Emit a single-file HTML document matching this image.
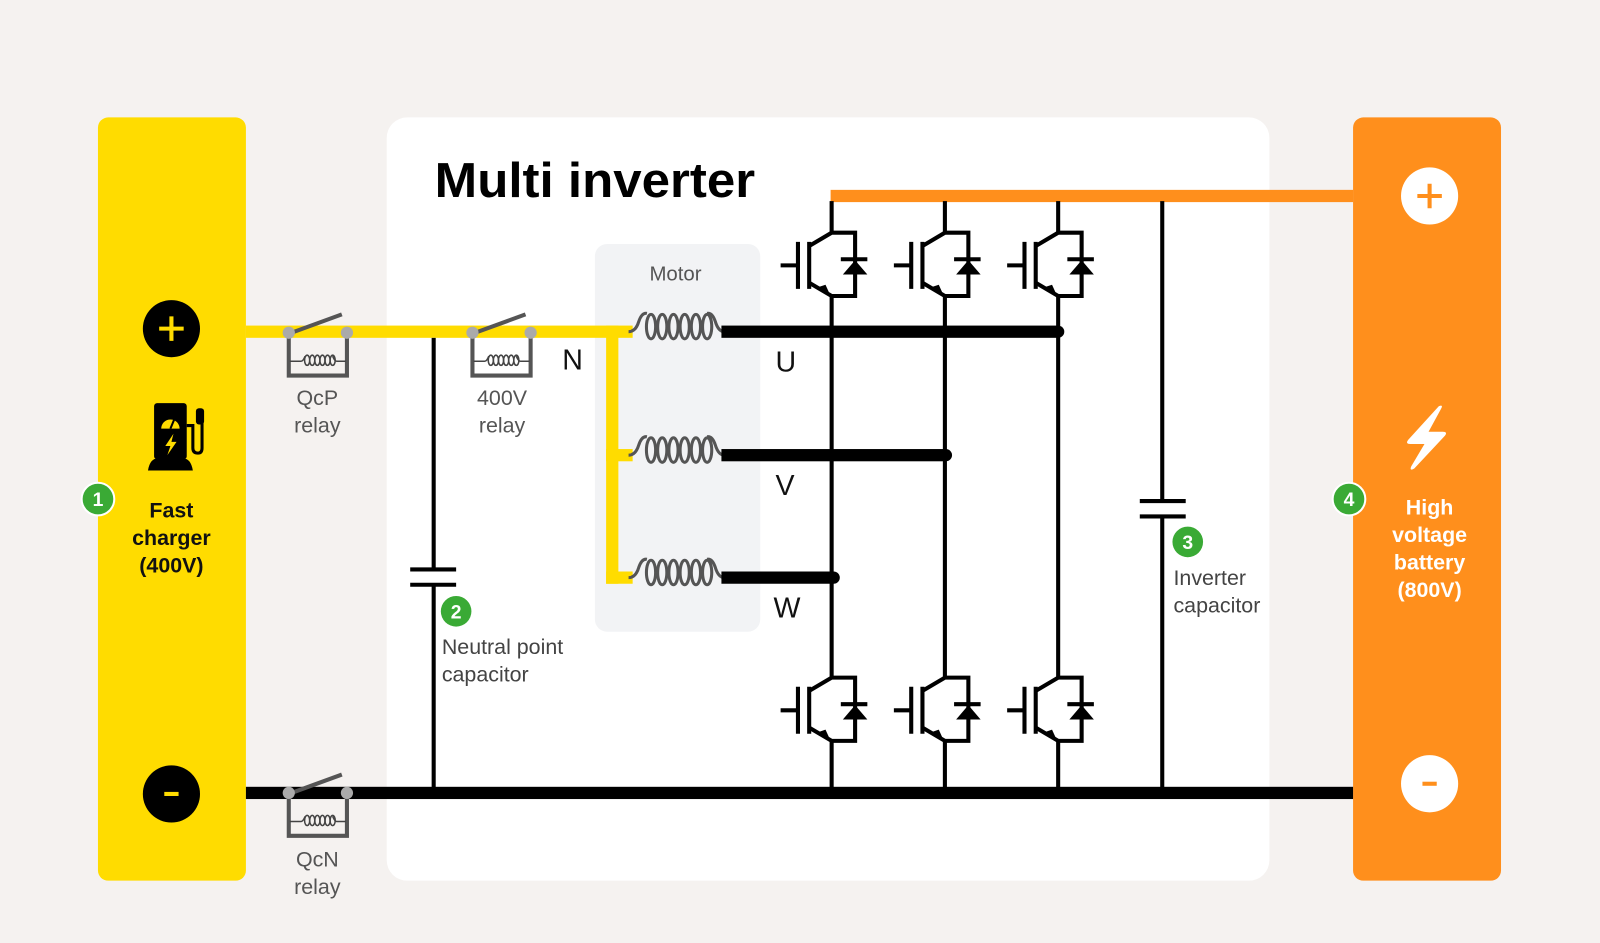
<!DOCTYPE html>
<html><head><meta charset="utf-8"><style>
html,body{margin:0;padding:0;background:#f5f2f0;}
svg{display:block;}
text{font-family:"Liberation Sans",sans-serif;}
</style></head><body>
<svg width="1600" height="943" viewBox="0 0 1568 924" xmlns="http://www.w3.org/2000/svg">
<defs>
<g id="igbt" fill="none" stroke="#000" stroke-width="4">
  <line x1="-50" y1="32" x2="-33" y2="32"/>
  <line x1="-33" y1="9" x2="-33" y2="55"/>
  <line x1="-22" y1="9" x2="-22" y2="55"/>
  <polyline points="-22,13 0,0 23,0 23,62 0,62 -22,49"/>
  <line x1="9" y1="26" x2="35" y2="26"/>
  <polygon points="23,27 11,41 35,41" fill="#000" stroke="none"/>
  <polygon points="-1,62 -12,53 -6,51" fill="#000" stroke="none"/>
</g>
<g id="relay">
  <polyline points="0,0 0,42 57,42 57,0" fill="none" stroke="#555" stroke-width="4"/>
  <g fill="none" stroke="#444" stroke-width="1.5">
    <path d="M1,28 H12 q2,0 4,-5 M43,23 q2,5 4,5 H56"/>
    <ellipse cx="18" cy="27" rx="2.5" ry="5"/>
    <ellipse cx="23" cy="27" rx="2.5" ry="5"/>
    <ellipse cx="28" cy="27" rx="2.5" ry="5"/>
    <ellipse cx="33" cy="27" rx="2.5" ry="5"/>
    <ellipse cx="38" cy="27" rx="2.5" ry="5"/>
    <ellipse cx="43" cy="27" rx="2.5" ry="5"/>
  </g>
  <line x1="0" y1="1" x2="52" y2="-18" stroke="#555" stroke-width="4"/>
  <circle cx="0" cy="0" r="6" fill="#aaa"/>
  <circle cx="57" cy="0" r="6" fill="#aaa"/>
</g>
<g id="coil" fill="none" stroke="#555" stroke-width="3">
  <path d="M0,3 q7,0 10,-10 q3,-9 8,-8 M77,-15 q5,-1 8,8 q3,10 9,10"/>
  <ellipse cx="22" cy="-2" rx="4.5" ry="12"/>
  <ellipse cx="33" cy="-2" rx="4.5" ry="12"/>
  <ellipse cx="44" cy="-2" rx="4.5" ry="12"/>
  <ellipse cx="55" cy="-2" rx="4.5" ry="12"/>
  <ellipse cx="66" cy="-2" rx="4.5" ry="12"/>
  <ellipse cx="77" cy="-2" rx="4.5" ry="12"/>
</g>
</defs>
<rect width="1568" height="924" fill="#f5f2f0"/>
<rect x="96" y="115" width="145" height="748" rx="10" fill="#ffdc00"/>
<rect x="379" y="115" width="865" height="748" rx="20" fill="#fff"/>
<rect x="1326" y="115" width="145" height="748" rx="10" fill="#ff8f1c"/>
<rect x="583" y="239" width="162" height="380" rx="12" fill="#f2f3f5"/>
<text x="426" y="193" font-size="48" font-weight="bold" fill="#000" textLength="314" lengthAdjust="spacingAndGlyphs">Multi inverter</text>
<text x="662" y="275" font-size="20" fill="#555" text-anchor="middle">Motor</text>

<rect x="241" y="319" width="379" height="12" fill="#ffdc00"/>
<rect x="594" y="319" width="12" height="253" fill="#ffdc00"/>
<rect x="594" y="440" width="26" height="12" fill="#ffdc00"/>
<rect x="594" y="560" width="26" height="12" fill="#ffdc00"/>
<rect x="814" y="186" width="512" height="12" fill="#ff8f1c"/>
<rect x="241" y="771" width="1085" height="12" fill="#000"/>

<use href="#relay" x="283" y="326"/>
<use href="#relay" x="463" y="326"/>
<use href="#relay" x="283" y="777"/>

<g stroke="#000" stroke-width="4">
<line x1="425" y1="331" x2="425" y2="557"/>
<line x1="402" y1="558" x2="447" y2="558"/>
<line x1="402" y1="573" x2="447" y2="573"/>
<line x1="425" y1="573" x2="425" y2="772"/>
<line x1="1139" y1="197" x2="1139" y2="490"/>
<line x1="1117" y1="491" x2="1162" y2="491"/>
<line x1="1117" y1="506" x2="1162" y2="506"/>
<line x1="1139" y1="506" x2="1139" y2="772"/>
</g>

<use href="#coil" x="616" y="322"/>
<use href="#coil" x="616" y="443"/>
<use href="#coil" x="616" y="563"/>
<rect x="707" y="319" width="330" height="12" fill="#000"/>
<circle cx="1037" cy="325" r="6" fill="#000"/>
<rect x="707" y="440" width="220" height="12" fill="#000"/>
<circle cx="927" cy="446" r="6" fill="#000"/>
<rect x="707" y="560" width="110" height="12" fill="#000"/>
<circle cx="817" cy="566" r="6" fill="#000"/>

<g stroke="#000" stroke-width="4">
<line x1="815" y1="197" x2="815" y2="228"/><line x1="815" y1="289" x2="815" y2="665"/><line x1="815" y1="726" x2="815" y2="772"/>
<line x1="926" y1="197" x2="926" y2="228"/><line x1="926" y1="289" x2="926" y2="665"/><line x1="926" y1="726" x2="926" y2="772"/>
<line x1="1037" y1="197" x2="1037" y2="228"/><line x1="1037" y1="289" x2="1037" y2="665"/><line x1="1037" y1="726" x2="1037" y2="772"/>
</g>
<use href="#igbt" x="815" y="228"/>
<use href="#igbt" x="926" y="228"/>
<use href="#igbt" x="1037" y="228"/>
<use href="#igbt" x="815" y="664"/>
<use href="#igbt" x="926" y="664"/>
<use href="#igbt" x="1037" y="664"/>

<g font-size="28" fill="#111">
<text x="551" y="362">N</text>
<text x="760" y="364">U</text>
<text x="760" y="485">V</text>
<text x="758" y="605">W</text>
</g>

<g font-size="21" fill="#555" text-anchor="middle">
<text x="311" y="397">QcP</text><text x="311" y="424">relay</text>
<text x="492" y="397">400V</text><text x="492" y="424">relay</text>
<text x="311" y="849">QcN</text><text x="311" y="876">relay</text>
</g>
<g font-size="21" fill="#444">
<text x="433" y="641">Neutral point</text><text x="433" y="668">capacitor</text>
<text x="1150" y="573">Inverter</text><text x="1150" y="600">capacitor</text>
</g>

<g font-size="21" font-weight="bold" text-anchor="middle">
<text x="168" y="507" fill="#111">Fast</text>
<text x="168" y="534" fill="#111">charger</text>
<text x="168" y="561" fill="#111">(400V)</text>
<text x="1401" y="504" fill="#fff">High</text>
<text x="1401" y="531" fill="#fff">voltage</text>
<text x="1401" y="558" fill="#fff">battery</text>
<text x="1401" y="585" fill="#fff">(800V)</text>
</g>

<circle cx="168" cy="322" r="28" fill="#000"/>
<path d="M156,322 H180 M168,310 V334" stroke="#ffdc00" stroke-width="4"/>
<circle cx="168" cy="778" r="28" fill="#000"/>
<path d="M161,778 H175" stroke="#ffdc00" stroke-width="4"/>
<circle cx="1401" cy="192" r="28" fill="#fff"/>
<path d="M1389,192 H1413 M1401,180 V204" stroke="#ff8f1c" stroke-width="4"/>
<circle cx="1401" cy="768" r="28" fill="#fff"/>
<path d="M1394,768 H1408" stroke="#ff8f1c" stroke-width="4"/>

<rect x="151" y="395" width="32" height="55" rx="3" fill="#000"/>
<path d="M145,461 q2,-12 10,-12 h24 q8,0 10,12 z" fill="#000"/>
<path d="M158,420 a9,9 0 0 1 18,0 z" fill="#ffdc00"/>
<line x1="167" y1="420" x2="172" y2="408" stroke="#000" stroke-width="2"/>
<path d="M170,425 l-8,12 h5 l-3,9 l9,-13 h-5 z" fill="#ffdc00"/>
<path d="M183,417 h6 v22 q0,5 5,5 q4,0 4,-5 v-25" fill="none" stroke="#000" stroke-width="3"/>
<rect x="192" y="400" width="8" height="16" rx="3" fill="#000"/>

<path d="M1412,401 q3,-5 -2,-3 l-30,33 q-3,4 2,4 l14,0 l-13,22 q-2,5 3,2 l30,-32 q3,-4 -2,-4 l-14,0 z" fill="#fff"/>

<g font-size="19" font-weight="bold" fill="#fff" text-anchor="middle">
<circle cx="96" cy="489" r="16" fill="#3aaa35" stroke="#fff" stroke-width="2"/><text x="96" y="496">1</text>
<circle cx="447" cy="599" r="15" fill="#3aaa35"/><text x="447" y="606">2</text>
<circle cx="1164" cy="531" r="15" fill="#3aaa35"/><text x="1164" y="538">3</text>
<circle cx="1322" cy="489" r="16" fill="#3aaa35" stroke="#fff" stroke-width="2"/><text x="1322" y="496">4</text>
</g>
</svg>
</body></html>
